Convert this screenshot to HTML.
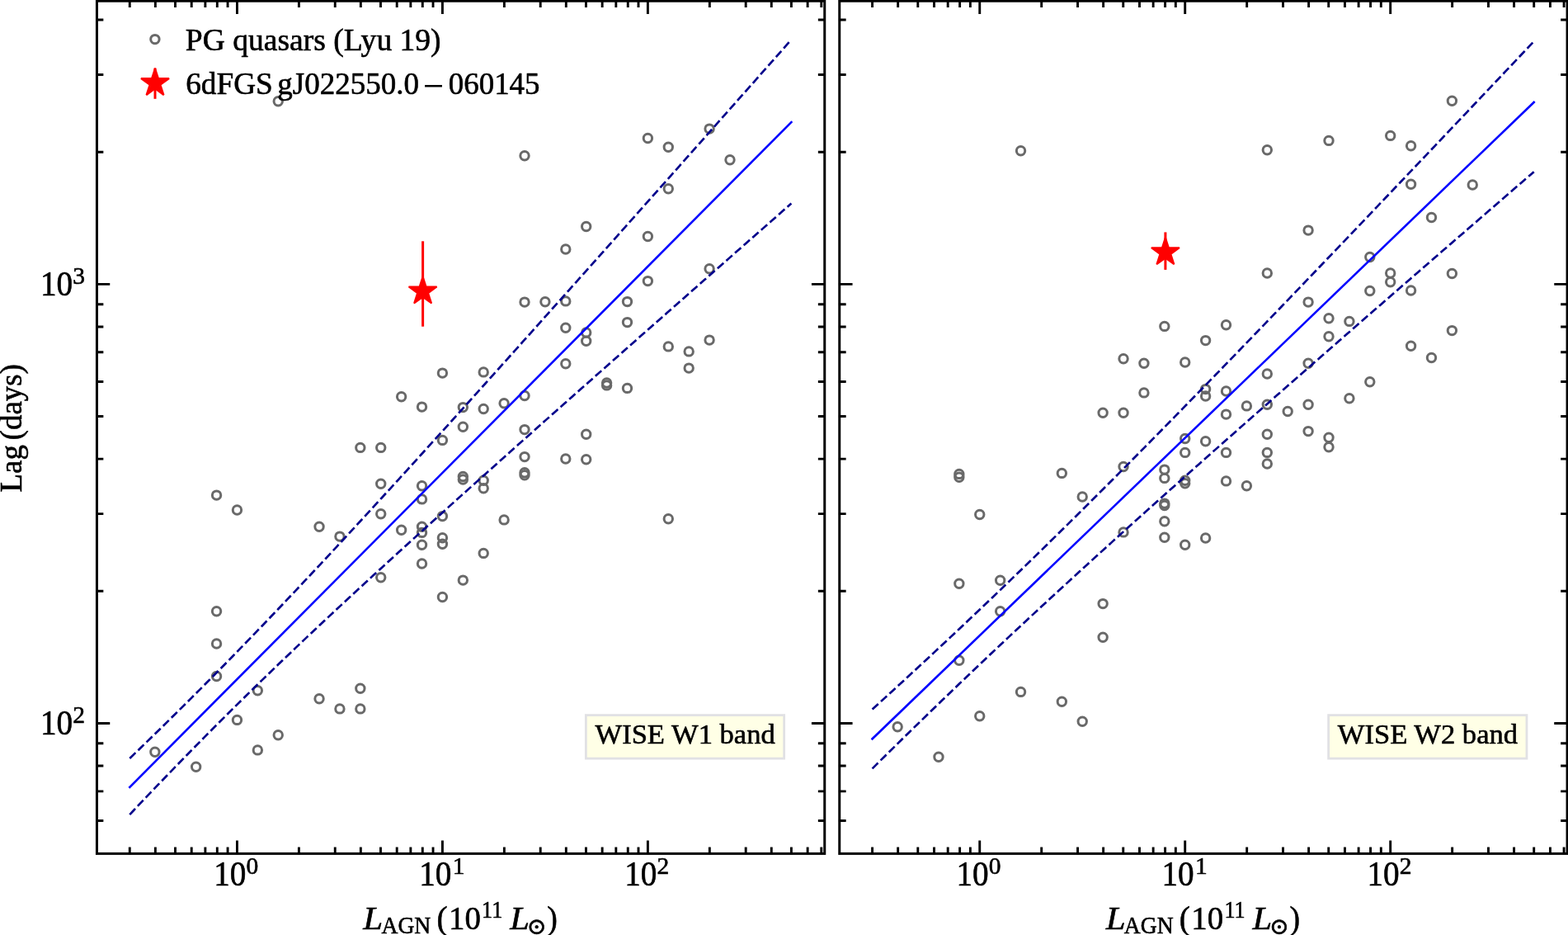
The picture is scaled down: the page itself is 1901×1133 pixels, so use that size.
<!DOCTYPE html>
<html><head><meta charset="utf-8"><title>Lag vs L_AGN</title>
<style>html,body{margin:0;padding:0;background:#fff;overflow:hidden}svg{display:block}</style>
</head><body>
<svg width="1901" height="1133" viewBox="0 0 1901 1133">
<rect x="0" y="0" width="1901" height="1133" fill="#fff"/>
<clipPath id="clip0"><rect x="117.45" y="1.2" width="882.3" height="1033.2"/></clipPath>
<g clip-path="url(#clip0)">
<rect x="710.35" y="866.6" width="240.30" height="52.50" fill="#ffffe6" stroke="#e1e1e4" stroke-width="2.8"/>
<g fill="none" stroke="#696969" stroke-width="3.0">
<circle cx="337.24" cy="122.70" r="5.2"/>
<circle cx="636.01" cy="188.80" r="5.2"/>
<circle cx="785.39" cy="167.50" r="5.2"/>
<circle cx="810.29" cy="178.30" r="5.2"/>
<circle cx="860.08" cy="156.10" r="5.2"/>
<circle cx="884.98" cy="193.80" r="5.2"/>
<circle cx="810.29" cy="228.80" r="5.2"/>
<circle cx="710.70" cy="274.50" r="5.2"/>
<circle cx="785.39" cy="286.50" r="5.2"/>
<circle cx="685.80" cy="302.00" r="5.2"/>
<circle cx="860.08" cy="325.80" r="5.2"/>
<circle cx="785.39" cy="340.60" r="5.2"/>
<circle cx="636.01" cy="366.10" r="5.2"/>
<circle cx="660.90" cy="365.80" r="5.2"/>
<circle cx="685.80" cy="364.90" r="5.2"/>
<circle cx="760.49" cy="365.60" r="5.2"/>
<circle cx="760.49" cy="390.60" r="5.2"/>
<circle cx="685.80" cy="397.30" r="5.2"/>
<circle cx="710.70" cy="403.00" r="5.2"/>
<circle cx="710.70" cy="413.20" r="5.2"/>
<circle cx="860.08" cy="412.10" r="5.2"/>
<circle cx="810.29" cy="419.90" r="5.2"/>
<circle cx="835.18" cy="425.90" r="5.2"/>
<circle cx="835.18" cy="446.10" r="5.2"/>
<circle cx="586.21" cy="450.90" r="5.2"/>
<circle cx="685.80" cy="440.70" r="5.2"/>
<circle cx="735.60" cy="464.00" r="5.2"/>
<circle cx="735.60" cy="466.90" r="5.2"/>
<circle cx="760.49" cy="470.40" r="5.2"/>
<circle cx="636.01" cy="479.50" r="5.2"/>
<circle cx="611.11" cy="488.80" r="5.2"/>
<circle cx="561.32" cy="493.60" r="5.2"/>
<circle cx="586.21" cy="495.50" r="5.2"/>
<circle cx="561.32" cy="517.20" r="5.2"/>
<circle cx="636.01" cy="520.60" r="5.2"/>
<circle cx="710.70" cy="526.20" r="5.2"/>
<circle cx="536.42" cy="452.10" r="5.2"/>
<circle cx="486.63" cy="480.70" r="5.2"/>
<circle cx="511.52" cy="493.10" r="5.2"/>
<circle cx="536.42" cy="533.40" r="5.2"/>
<circle cx="436.83" cy="542.40" r="5.2"/>
<circle cx="461.73" cy="542.40" r="5.2"/>
<circle cx="461.73" cy="586.30" r="5.2"/>
<circle cx="511.52" cy="588.70" r="5.2"/>
<circle cx="561.32" cy="577.50" r="5.2"/>
<circle cx="561.32" cy="581.00" r="5.2"/>
<circle cx="262.55" cy="600.10" r="5.2"/>
<circle cx="287.45" cy="618.00" r="5.2"/>
<circle cx="511.52" cy="604.90" r="5.2"/>
<circle cx="461.73" cy="622.70" r="5.2"/>
<circle cx="536.42" cy="625.60" r="5.2"/>
<circle cx="387.04" cy="638.20" r="5.2"/>
<circle cx="411.93" cy="650.10" r="5.2"/>
<circle cx="486.63" cy="642.30" r="5.2"/>
<circle cx="511.52" cy="638.20" r="5.2"/>
<circle cx="511.52" cy="645.40" r="5.2"/>
<circle cx="511.52" cy="660.20" r="5.2"/>
<circle cx="536.42" cy="651.80" r="5.2"/>
<circle cx="536.42" cy="659.20" r="5.2"/>
<circle cx="511.52" cy="683.00" r="5.2"/>
<circle cx="461.73" cy="699.70" r="5.2"/>
<circle cx="561.32" cy="703.10" r="5.2"/>
<circle cx="536.42" cy="723.50" r="5.2"/>
<circle cx="262.55" cy="740.70" r="5.2"/>
<circle cx="636.01" cy="553.60" r="5.2"/>
<circle cx="685.80" cy="556.00" r="5.2"/>
<circle cx="710.70" cy="556.70" r="5.2"/>
<circle cx="586.21" cy="582.20" r="5.2"/>
<circle cx="586.21" cy="591.80" r="5.2"/>
<circle cx="636.01" cy="572.70" r="5.2"/>
<circle cx="636.01" cy="575.80" r="5.2"/>
<circle cx="611.11" cy="629.90" r="5.2"/>
<circle cx="810.29" cy="628.70" r="5.2"/>
<circle cx="586.21" cy="670.40" r="5.2"/>
<circle cx="262.55" cy="780.00" r="5.2"/>
<circle cx="262.55" cy="819.50" r="5.2"/>
<circle cx="312.35" cy="836.70" r="5.2"/>
<circle cx="387.04" cy="846.70" r="5.2"/>
<circle cx="436.83" cy="834.30" r="5.2"/>
<circle cx="411.93" cy="858.90" r="5.2"/>
<circle cx="436.83" cy="858.90" r="5.2"/>
<circle cx="287.45" cy="872.40" r="5.2"/>
<circle cx="337.24" cy="890.80" r="5.2"/>
<circle cx="312.35" cy="908.90" r="5.2"/>
<circle cx="187.86" cy="911.30" r="5.2"/>
<circle cx="237.66" cy="929.20" r="5.2"/>
</g>
<line x1="157.27" y1="953.85" x2="959.41" y2="148.0" stroke="#0000ff" stroke-width="2.6" stroke-linecap="square"/>
<polyline points="157.27,918.95 162.28,914.13 167.30,909.30 172.31,904.45 177.32,899.60 182.34,894.73 187.35,889.86 192.36,884.97 197.38,880.06 202.39,875.15 207.40,870.22 212.42,865.28 217.43,860.32 222.44,855.36 227.46,850.38 232.47,845.38 237.48,840.38 242.50,835.36 247.51,830.32 252.52,825.27 257.54,820.21 262.55,815.14 267.56,810.05 272.58,804.95 277.59,799.84 282.60,794.71 287.62,789.57 292.63,784.42 297.64,779.26 302.66,774.08 307.67,768.89 312.68,763.69 317.70,758.47 322.71,753.24 327.72,748.01 332.74,742.76 337.75,737.50 342.76,732.23 347.78,726.94 352.79,721.65 357.80,716.35 362.82,711.03 367.83,705.71 372.84,700.38 377.86,695.03 382.87,689.68 387.89,684.32 392.90,678.95 397.91,673.57 402.93,668.19 407.94,662.79 412.95,657.39 417.97,651.98 422.98,646.56 427.99,641.14 433.01,635.70 438.02,630.26 443.03,624.82 448.05,619.37 453.06,613.91 458.07,608.45 463.09,602.98 468.10,597.50 473.11,592.02 478.13,586.53 483.14,581.04 488.15,575.54 493.17,570.04 498.18,564.53 503.19,559.02 508.21,553.51 513.22,547.99 518.23,542.46 523.25,536.93 528.26,531.40 533.27,525.87 538.29,520.33 543.30,514.78 548.31,509.24 553.33,503.68 558.34,498.13 563.35,492.57 568.37,487.01 573.38,481.45 578.39,475.88 583.41,470.31 588.42,464.74 593.43,459.17 598.45,453.59 603.46,448.01 608.47,442.43 613.49,436.84 618.50,431.26 623.51,425.67 628.53,420.08 633.54,414.48 638.56,408.89 643.57,403.29 648.58,397.69 653.60,392.09 658.61,386.48 663.62,380.88 668.64,375.27 673.65,369.66 678.66,364.05 683.68,358.44 688.69,352.82 693.70,347.21 698.72,341.59 703.73,335.97 708.74,330.35 713.76,324.73 718.77,319.11 723.78,313.48 728.80,307.86 733.81,302.23 738.82,296.60 743.84,290.97 748.85,285.34 753.86,279.71 758.88,274.08 763.89,268.44 768.90,262.81 773.92,257.17 778.93,251.54 783.94,245.90 788.96,240.26 793.97,234.62 798.98,228.98 804.00,223.33 809.01,217.69 814.02,212.05 819.04,206.40 824.05,200.76 829.06,195.11 834.08,189.46 839.09,183.82 844.10,178.17 849.12,172.52 854.13,166.87 859.14,161.22 864.16,155.57 869.17,149.91 874.18,144.26 879.20,138.61 884.21,132.95 889.22,127.30 894.24,121.64 899.25,115.99 904.27,110.33 909.28,104.67 914.29,99.01 919.31,93.36 924.32,87.70 929.33,82.04 934.35,76.38 939.36,70.72 944.37,65.06 949.39,59.39 954.40,53.73 959.41,48.07" fill="none" stroke="#00008b" stroke-width="2.65" stroke-dasharray="9.8 4.3" stroke-linecap="butt" stroke-linejoin="round"/>
<polyline points="157.27,987.04 162.28,981.74 167.30,976.45 172.31,971.18 177.32,965.92 182.34,960.66 187.35,955.43 192.36,950.20 197.38,944.99 202.39,939.79 207.40,934.61 212.42,929.44 217.43,924.28 222.44,919.14 227.46,914.01 232.47,908.89 237.48,903.79 242.50,898.71 247.51,893.64 252.52,888.58 257.54,883.54 262.55,878.51 267.56,873.50 272.58,868.50 277.59,863.52 282.60,858.55 287.62,853.60 292.63,848.66 297.64,843.73 302.66,838.82 307.67,833.92 312.68,829.04 317.70,824.17 322.71,819.31 327.72,814.47 332.74,809.63 337.75,804.82 342.76,800.01 347.78,795.21 352.79,790.43 357.80,785.66 362.82,780.90 367.83,776.15 372.84,771.41 377.86,766.69 382.87,761.97 387.89,757.26 392.90,752.56 397.91,747.87 402.93,743.19 407.94,738.52 412.95,733.86 417.97,729.20 422.98,724.56 427.99,719.92 433.01,715.29 438.02,710.66 443.03,706.05 448.05,701.44 453.06,696.83 458.07,692.24 463.09,687.65 468.10,683.06 473.11,678.48 478.13,673.91 483.14,669.34 488.15,664.78 493.17,660.22 498.18,655.67 503.19,651.12 508.21,646.58 513.22,642.04 518.23,637.50 523.25,632.97 528.26,628.45 533.27,623.92 538.29,619.41 543.30,614.89 548.31,610.38 553.33,605.87 558.34,601.37 563.35,596.87 568.37,592.37 573.38,587.87 578.39,583.38 583.41,578.89 588.42,574.40 593.43,569.92 598.45,565.44 603.46,560.96 608.47,556.48 613.49,552.01 618.50,547.54 623.51,543.07 628.53,538.60 633.54,534.13 638.56,529.67 643.57,525.21 648.58,520.75 653.60,516.29 658.61,511.84 663.62,507.38 668.64,502.93 673.65,498.48 678.66,494.03 683.68,489.58 688.69,485.14 693.70,480.69 698.72,476.25 703.73,471.81 708.74,467.37 713.76,462.93 718.77,458.49 723.78,454.06 728.80,449.62 733.81,445.19 738.82,440.76 743.84,436.33 748.85,431.90 753.86,427.47 758.88,423.04 763.89,418.61 768.90,414.19 773.92,409.76 778.93,405.34 783.94,400.91 788.96,396.49 793.97,392.07 798.98,387.65 804.00,383.23 809.01,378.81 814.02,374.39 819.04,369.98 824.05,365.56 829.06,361.14 834.08,356.73 839.09,352.32 844.10,347.90 849.12,343.49 854.13,339.08 859.14,334.67 864.16,330.26 869.17,325.85 874.18,321.44 879.20,317.03 884.21,312.62 889.22,308.21 894.24,303.80 899.25,299.40 904.27,294.99 909.28,290.59 914.29,286.18 919.31,281.78 924.32,277.37 929.33,272.97 934.35,268.57 939.36,264.16 944.37,259.76 949.39,255.36 954.40,250.96 959.41,246.56" fill="none" stroke="#00008b" stroke-width="2.65" stroke-dasharray="9.8 4.3" stroke-linecap="butt" stroke-linejoin="round"/>
<line x1="512.6" y1="292.3" x2="512.6" y2="395.7" stroke="#ff0000" stroke-width="3"/>
<polygon points="512.60,335.10 508.58,347.47 495.58,347.47 506.10,355.11 502.08,367.48 512.60,359.84 523.12,367.48 519.10,355.11 529.62,347.47 516.62,347.47" fill="#ff0000" stroke="#ff0000" stroke-width="2.0" stroke-linejoin="bevel"/>
</g>
<rect x="117.45" y="1.2" width="882.3" height="1033.2" fill="none" stroke="#000" stroke-width="3.0"/>
<path d="M157.27 1034.4v-7.9M157.27 1.2v7.9M188.37 1034.4v-7.9M188.37 1.2v7.9M212.50 1034.4v-7.9M212.50 1.2v7.9M232.22 1034.4v-7.9M232.22 1.2v7.9M248.88 1034.4v-7.9M248.88 1.2v7.9M263.32 1034.4v-7.9M263.32 1.2v7.9M276.06 1034.4v-7.9M276.06 1.2v7.9M287.45 1034.4v-15.8M287.45 1.2v15.8M362.40 1034.4v-7.9M362.40 1.2v7.9M406.24 1034.4v-7.9M406.24 1.2v7.9M437.34 1034.4v-7.9M437.34 1.2v7.9M461.47 1034.4v-7.9M461.47 1.2v7.9M481.19 1034.4v-7.9M481.19 1.2v7.9M497.85 1034.4v-7.9M497.85 1.2v7.9M512.29 1034.4v-7.9M512.29 1.2v7.9M525.03 1034.4v-7.9M525.03 1.2v7.9M536.42 1034.4v-15.8M536.42 1.2v15.8M611.37 1034.4v-7.9M611.37 1.2v7.9M655.21 1034.4v-7.9M655.21 1.2v7.9M686.31 1034.4v-7.9M686.31 1.2v7.9M710.44 1034.4v-7.9M710.44 1.2v7.9M730.16 1034.4v-7.9M730.16 1.2v7.9M746.82 1034.4v-7.9M746.82 1.2v7.9M761.26 1034.4v-7.9M761.26 1.2v7.9M774.00 1034.4v-7.9M774.00 1.2v7.9M785.39 1034.4v-15.8M785.39 1.2v15.8M860.34 1034.4v-7.9M860.34 1.2v7.9M904.18 1034.4v-7.9M904.18 1.2v7.9M935.28 1034.4v-7.9M935.28 1.2v7.9M959.41 1034.4v-7.9M959.41 1.2v7.9M979.13 1034.4v-7.9M979.13 1.2v7.9M995.79 1034.4v-7.9M995.79 1.2v7.9M117.45 994.48h7.9M999.75 994.48h-7.9M117.45 958.87h7.9M999.75 958.87h-7.9M117.45 928.01h7.9M999.75 928.01h-7.9M117.45 900.80h7.9M999.75 900.80h-7.9M117.45 876.45h15.8M999.75 876.45h-15.8M117.45 716.29h7.9M999.75 716.29h-7.9M117.45 622.60h7.9M999.75 622.60h-7.9M117.45 556.12h7.9M999.75 556.12h-7.9M117.45 504.56h7.9M999.75 504.56h-7.9M117.45 462.43h7.9M999.75 462.43h-7.9M117.45 426.82h7.9M999.75 426.82h-7.9M117.45 395.96h7.9M999.75 395.96h-7.9M117.45 368.75h7.9M999.75 368.75h-7.9M117.45 344.40h15.8M999.75 344.40h-15.8M117.45 184.24h7.9M999.75 184.24h-7.9M117.45 90.55h7.9M999.75 90.55h-7.9M117.45 24.07h7.9M999.75 24.07h-7.9" stroke="#000" stroke-width="2.9" fill="none"/>
<clipPath id="clip1"><rect x="1017.75" y="1.2" width="882.3" height="1033.2"/></clipPath>
<g clip-path="url(#clip1)">
<rect x="1610.65" y="866.6" width="240.30" height="52.50" fill="#ffffe6" stroke="#e1e1e4" stroke-width="2.8"/>
<g fill="none" stroke="#696969" stroke-width="3.0">
<circle cx="1237.54" cy="182.80" r="5.2"/>
<circle cx="1536.31" cy="181.80" r="5.2"/>
<circle cx="1611.00" cy="170.40" r="5.2"/>
<circle cx="1685.69" cy="164.40" r="5.2"/>
<circle cx="1710.59" cy="176.80" r="5.2"/>
<circle cx="1760.38" cy="122.30" r="5.2"/>
<circle cx="1710.59" cy="223.30" r="5.2"/>
<circle cx="1785.28" cy="224.00" r="5.2"/>
<circle cx="1735.48" cy="263.50" r="5.2"/>
<circle cx="1586.10" cy="279.10" r="5.2"/>
<circle cx="1660.79" cy="311.50" r="5.2"/>
<circle cx="1536.31" cy="331.00" r="5.2"/>
<circle cx="1685.69" cy="331.00" r="5.2"/>
<circle cx="1685.69" cy="341.80" r="5.2"/>
<circle cx="1760.38" cy="331.50" r="5.2"/>
<circle cx="1660.79" cy="352.50" r="5.2"/>
<circle cx="1710.59" cy="352.00" r="5.2"/>
<circle cx="1586.10" cy="366.10" r="5.2"/>
<circle cx="1611.00" cy="385.80" r="5.2"/>
<circle cx="1635.90" cy="389.40" r="5.2"/>
<circle cx="1486.51" cy="393.70" r="5.2"/>
<circle cx="1760.38" cy="400.60" r="5.2"/>
<circle cx="1461.62" cy="412.60" r="5.2"/>
<circle cx="1611.00" cy="407.80" r="5.2"/>
<circle cx="1710.59" cy="419.20" r="5.2"/>
<circle cx="1735.48" cy="433.50" r="5.2"/>
<circle cx="1586.10" cy="440.20" r="5.2"/>
<circle cx="1536.31" cy="453.00" r="5.2"/>
<circle cx="1660.79" cy="462.80" r="5.2"/>
<circle cx="1461.62" cy="471.60" r="5.2"/>
<circle cx="1461.62" cy="480.00" r="5.2"/>
<circle cx="1486.51" cy="474.00" r="5.2"/>
<circle cx="1635.90" cy="482.80" r="5.2"/>
<circle cx="1511.41" cy="491.90" r="5.2"/>
<circle cx="1536.31" cy="490.20" r="5.2"/>
<circle cx="1561.20" cy="498.50" r="5.2"/>
<circle cx="1586.10" cy="490.20" r="5.2"/>
<circle cx="1486.51" cy="502.10" r="5.2"/>
<circle cx="1536.31" cy="526.20" r="5.2"/>
<circle cx="1586.10" cy="522.60" r="5.2"/>
<circle cx="1611.00" cy="530.30" r="5.2"/>
<circle cx="1611.00" cy="541.70" r="5.2"/>
<circle cx="1486.51" cy="548.40" r="5.2"/>
<circle cx="1536.31" cy="548.40" r="5.2"/>
<circle cx="1536.31" cy="562.00" r="5.2"/>
<circle cx="1486.51" cy="582.90" r="5.2"/>
<circle cx="1511.41" cy="588.70" r="5.2"/>
<circle cx="1411.82" cy="395.40" r="5.2"/>
<circle cx="1362.03" cy="434.70" r="5.2"/>
<circle cx="1386.93" cy="440.20" r="5.2"/>
<circle cx="1436.72" cy="439.00" r="5.2"/>
<circle cx="1386.93" cy="475.90" r="5.2"/>
<circle cx="1337.13" cy="500.30" r="5.2"/>
<circle cx="1362.03" cy="500.30" r="5.2"/>
<circle cx="1436.72" cy="531.50" r="5.2"/>
<circle cx="1461.62" cy="534.80" r="5.2"/>
<circle cx="1436.72" cy="548.40" r="5.2"/>
<circle cx="1362.03" cy="565.50" r="5.2"/>
<circle cx="1411.82" cy="569.10" r="5.2"/>
<circle cx="1411.82" cy="579.40" r="5.2"/>
<circle cx="1162.85" cy="574.40" r="5.2"/>
<circle cx="1162.85" cy="578.20" r="5.2"/>
<circle cx="1287.34" cy="573.40" r="5.2"/>
<circle cx="1436.72" cy="582.20" r="5.2"/>
<circle cx="1436.72" cy="585.80" r="5.2"/>
<circle cx="1312.23" cy="602.00" r="5.2"/>
<circle cx="1411.82" cy="610.10" r="5.2"/>
<circle cx="1411.82" cy="612.50" r="5.2"/>
<circle cx="1187.75" cy="623.50" r="5.2"/>
<circle cx="1411.82" cy="631.80" r="5.2"/>
<circle cx="1362.03" cy="644.90" r="5.2"/>
<circle cx="1411.82" cy="651.30" r="5.2"/>
<circle cx="1461.62" cy="652.00" r="5.2"/>
<circle cx="1436.72" cy="660.20" r="5.2"/>
<circle cx="1162.85" cy="707.30" r="5.2"/>
<circle cx="1212.65" cy="703.30" r="5.2"/>
<circle cx="1337.13" cy="731.60" r="5.2"/>
<circle cx="1212.65" cy="740.70" r="5.2"/>
<circle cx="1337.13" cy="772.30" r="5.2"/>
<circle cx="1162.85" cy="800.20" r="5.2"/>
<circle cx="1237.54" cy="838.40" r="5.2"/>
<circle cx="1287.34" cy="850.30" r="5.2"/>
<circle cx="1187.75" cy="867.70" r="5.2"/>
<circle cx="1312.23" cy="874.30" r="5.2"/>
<circle cx="1088.16" cy="880.80" r="5.2"/>
<circle cx="1137.96" cy="917.20" r="5.2"/>
</g>
<line x1="1057.57" y1="895.3" x2="1859.71" y2="123.9" stroke="#0000ff" stroke-width="2.6" stroke-linecap="square"/>
<polyline points="1057.57,859.59 1062.58,855.02 1067.60,850.45 1072.61,845.87 1077.62,841.28 1082.64,836.68 1087.65,832.08 1092.66,827.48 1097.68,822.86 1102.69,818.24 1107.70,813.61 1112.72,808.98 1117.73,804.33 1122.74,799.68 1127.76,795.02 1132.77,790.36 1137.78,785.69 1142.80,781.00 1147.81,776.31 1152.82,771.62 1157.84,766.91 1162.85,762.20 1167.86,757.48 1172.88,752.75 1177.89,748.01 1182.90,743.26 1187.92,738.50 1192.93,733.74 1197.94,728.96 1202.96,724.18 1207.97,719.39 1212.98,714.59 1218.00,709.78 1223.01,704.96 1228.02,700.14 1233.04,695.30 1238.05,690.46 1243.06,685.60 1248.08,680.74 1253.09,675.87 1258.10,670.99 1263.12,666.11 1268.13,661.21 1273.14,656.30 1278.16,651.39 1283.17,646.47 1288.19,641.54 1293.20,636.60 1298.21,631.65 1303.23,626.70 1308.24,621.74 1313.25,616.76 1318.27,611.79 1323.28,606.80 1328.29,601.81 1333.31,596.81 1338.32,591.80 1343.33,586.78 1348.35,581.76 1353.36,576.73 1358.37,571.69 1363.39,566.65 1368.40,561.60 1373.41,556.55 1378.43,551.48 1383.44,546.42 1388.45,541.34 1393.47,536.26 1398.48,531.18 1403.49,526.08 1408.51,520.99 1413.52,515.89 1418.53,510.78 1423.55,505.66 1428.56,500.55 1433.57,495.42 1438.59,490.30 1443.60,485.16 1448.61,480.03 1453.63,474.89 1458.64,469.74 1463.65,464.59 1468.67,459.44 1473.68,454.28 1478.69,449.12 1483.71,443.95 1488.72,438.78 1493.73,433.61 1498.75,428.43 1503.76,423.25 1508.77,418.06 1513.79,412.88 1518.80,407.69 1523.81,402.49 1528.83,397.30 1533.84,392.10 1538.86,386.89 1543.87,381.69 1548.88,376.48 1553.90,371.27 1558.91,366.06 1563.92,360.84 1568.94,355.62 1573.95,350.40 1578.96,345.18 1583.98,339.95 1588.99,334.72 1594.00,329.49 1599.02,324.26 1604.03,319.02 1609.04,313.79 1614.06,308.55 1619.07,303.31 1624.08,298.07 1629.10,292.82 1634.11,287.57 1639.12,282.33 1644.14,277.08 1649.15,271.82 1654.16,266.57 1659.18,261.32 1664.19,256.06 1669.20,250.80 1674.22,245.54 1679.23,240.28 1684.24,235.02 1689.26,229.76 1694.27,224.49 1699.28,219.22 1704.30,213.96 1709.31,208.69 1714.32,203.42 1719.34,198.14 1724.35,192.87 1729.36,187.60 1734.38,182.32 1739.39,177.05 1744.40,171.77 1749.42,166.49 1754.43,161.21 1759.44,155.93 1764.46,150.65 1769.47,145.37 1774.48,140.08 1779.50,134.80 1784.51,129.51 1789.52,124.23 1794.54,118.94 1799.55,113.65 1804.57,108.36 1809.58,103.07 1814.59,97.78 1819.61,92.49 1824.62,87.20 1829.63,81.91 1834.65,76.61 1839.66,71.32 1844.67,66.02 1849.69,60.73 1854.70,55.43 1859.71,50.13" fill="none" stroke="#00008b" stroke-width="2.65" stroke-dasharray="9.8 4.3" stroke-linecap="butt" stroke-linejoin="round"/>
<polyline points="1057.57,931.33 1062.58,926.37 1067.60,921.41 1072.61,916.47 1077.62,911.53 1082.64,906.60 1087.65,901.68 1092.66,896.76 1097.68,891.86 1102.69,886.96 1107.70,882.07 1112.72,877.19 1117.73,872.31 1122.74,867.45 1127.76,862.59 1132.77,857.74 1137.78,852.90 1142.80,848.07 1147.81,843.25 1152.82,838.43 1157.84,833.63 1162.85,828.83 1167.86,824.04 1172.88,819.26 1177.89,814.48 1182.90,809.72 1187.92,804.96 1192.93,800.22 1197.94,795.48 1202.96,790.74 1207.97,786.02 1212.98,781.30 1218.00,776.59 1223.01,771.89 1228.02,767.20 1233.04,762.52 1238.05,757.84 1243.06,753.17 1248.08,748.51 1253.09,743.85 1258.10,739.20 1263.12,734.56 1268.13,729.93 1273.14,725.30 1278.16,720.68 1283.17,716.07 1288.19,711.46 1293.20,706.86 1298.21,702.26 1303.23,697.68 1308.24,693.09 1313.25,688.52 1318.27,683.95 1323.28,679.38 1328.29,674.82 1333.31,670.27 1338.32,665.72 1343.33,661.18 1348.35,656.64 1353.36,652.11 1358.37,647.58 1363.39,643.06 1368.40,638.54 1373.41,634.03 1378.43,629.52 1383.44,625.02 1388.45,620.52 1393.47,616.02 1398.48,611.53 1403.49,607.05 1408.51,602.56 1413.52,598.09 1418.53,593.61 1423.55,589.14 1428.56,584.67 1433.57,580.21 1438.59,575.75 1443.60,571.29 1448.61,566.84 1453.63,562.39 1458.64,557.94 1463.65,553.49 1468.67,549.05 1473.68,544.62 1478.69,540.18 1483.71,535.75 1488.72,531.32 1493.73,526.89 1498.75,522.47 1503.76,518.05 1508.77,513.63 1513.79,509.21 1518.80,504.80 1523.81,500.38 1528.83,495.97 1533.84,491.57 1538.86,487.16 1543.87,482.76 1548.88,478.36 1553.90,473.96 1558.91,469.56 1563.92,465.17 1568.94,460.77 1573.95,456.38 1578.96,451.99 1583.98,447.61 1588.99,443.22 1594.00,438.84 1599.02,434.45 1604.03,430.07 1609.04,425.69 1614.06,421.32 1619.07,416.94 1624.08,412.57 1629.10,408.19 1634.11,403.82 1639.12,399.45 1644.14,395.08 1649.15,390.71 1654.16,386.35 1659.18,381.98 1664.19,377.62 1669.20,373.26 1674.22,368.90 1679.23,364.54 1684.24,360.18 1689.26,355.82 1694.27,351.46 1699.28,347.11 1704.30,342.75 1709.31,338.40 1714.32,334.05 1719.34,329.70 1724.35,325.35 1729.36,321.00 1734.38,316.65 1739.39,312.30 1744.40,307.96 1749.42,303.61 1754.43,299.27 1759.44,294.92 1764.46,290.58 1769.47,286.24 1774.48,281.90 1779.50,277.56 1784.51,273.22 1789.52,268.88 1794.54,264.54 1799.55,260.20 1804.57,255.86 1809.58,251.53 1814.59,247.19 1819.61,242.86 1824.62,238.52 1829.63,234.19 1834.65,229.86 1839.66,225.53 1844.67,221.20 1849.69,216.86 1854.70,212.53 1859.71,208.20" fill="none" stroke="#00008b" stroke-width="2.65" stroke-dasharray="9.8 4.3" stroke-linecap="butt" stroke-linejoin="round"/>
<line x1="1412.9" y1="281.4" x2="1412.9" y2="326.9" stroke="#ff0000" stroke-width="3"/>
<polygon points="1412.90,287.90 1408.88,300.27 1395.88,300.27 1406.40,307.91 1402.38,320.28 1412.90,312.64 1423.42,320.28 1419.40,307.91 1429.92,300.27 1416.92,300.27" fill="#ff0000" stroke="#ff0000" stroke-width="2.0" stroke-linejoin="bevel"/>
</g>
<rect x="1017.75" y="1.2" width="882.3" height="1033.2" fill="none" stroke="#000" stroke-width="3.0"/>
<path d="M1057.57 1034.4v-7.9M1057.57 1.2v7.9M1088.67 1034.4v-7.9M1088.67 1.2v7.9M1112.80 1034.4v-7.9M1112.80 1.2v7.9M1132.52 1034.4v-7.9M1132.52 1.2v7.9M1149.18 1034.4v-7.9M1149.18 1.2v7.9M1163.62 1034.4v-7.9M1163.62 1.2v7.9M1176.36 1034.4v-7.9M1176.36 1.2v7.9M1187.75 1034.4v-15.8M1187.75 1.2v15.8M1262.70 1034.4v-7.9M1262.70 1.2v7.9M1306.54 1034.4v-7.9M1306.54 1.2v7.9M1337.64 1034.4v-7.9M1337.64 1.2v7.9M1361.77 1034.4v-7.9M1361.77 1.2v7.9M1381.49 1034.4v-7.9M1381.49 1.2v7.9M1398.15 1034.4v-7.9M1398.15 1.2v7.9M1412.59 1034.4v-7.9M1412.59 1.2v7.9M1425.33 1034.4v-7.9M1425.33 1.2v7.9M1436.72 1034.4v-15.8M1436.72 1.2v15.8M1511.67 1034.4v-7.9M1511.67 1.2v7.9M1555.51 1034.4v-7.9M1555.51 1.2v7.9M1586.61 1034.4v-7.9M1586.61 1.2v7.9M1610.74 1034.4v-7.9M1610.74 1.2v7.9M1630.46 1034.4v-7.9M1630.46 1.2v7.9M1647.12 1034.4v-7.9M1647.12 1.2v7.9M1661.56 1034.4v-7.9M1661.56 1.2v7.9M1674.30 1034.4v-7.9M1674.30 1.2v7.9M1685.69 1034.4v-15.8M1685.69 1.2v15.8M1760.64 1034.4v-7.9M1760.64 1.2v7.9M1804.48 1034.4v-7.9M1804.48 1.2v7.9M1835.58 1034.4v-7.9M1835.58 1.2v7.9M1859.71 1034.4v-7.9M1859.71 1.2v7.9M1879.43 1034.4v-7.9M1879.43 1.2v7.9M1896.09 1034.4v-7.9M1896.09 1.2v7.9M1017.75 994.48h7.9M1900.05 994.48h-7.9M1017.75 958.87h7.9M1900.05 958.87h-7.9M1017.75 928.01h7.9M1900.05 928.01h-7.9M1017.75 900.80h7.9M1900.05 900.80h-7.9M1017.75 876.45h15.8M1900.05 876.45h-15.8M1017.75 716.29h7.9M1900.05 716.29h-7.9M1017.75 622.60h7.9M1900.05 622.60h-7.9M1017.75 556.12h7.9M1900.05 556.12h-7.9M1017.75 504.56h7.9M1900.05 504.56h-7.9M1017.75 462.43h7.9M1900.05 462.43h-7.9M1017.75 426.82h7.9M1900.05 426.82h-7.9M1017.75 395.96h7.9M1900.05 395.96h-7.9M1017.75 368.75h7.9M1900.05 368.75h-7.9M1017.75 344.40h15.8M1900.05 344.40h-15.8M1017.75 184.24h7.9M1900.05 184.24h-7.9M1017.75 90.55h7.9M1900.05 90.55h-7.9M1017.75 24.07h7.9M1900.05 24.07h-7.9" stroke="#000" stroke-width="2.9" fill="none"/>
<circle cx="187.9" cy="47.6" r="5.2" fill="none" stroke="#696969" stroke-width="3.0"/>
<line x1="188.0" y1="82.5" x2="188.0" y2="119.8" stroke="#ff0000" stroke-width="3"/>
<polygon points="188.00,82.70 183.98,95.07 170.98,95.07 181.50,102.71 177.48,115.08 188.00,107.44 198.52,115.08 194.50,102.71 205.02,95.07 192.02,95.07" fill="#ff0000" stroke="#ff0000" stroke-width="2.0" stroke-linejoin="bevel"/>
<g>
<text transform="translate(224.81,60.80) scale(0.09940,0.10000)" font-family="'Liberation Serif', serif" font-size="378.0" fill="#000" stroke="#000" stroke-width="6.00" stroke-linejoin="round">PG quasars (Lyu 19)</text>
<text transform="translate(225.22,113.50) scale(0.09860,0.10000)" font-family="'Liberation Serif', serif" font-size="378.0" fill="#000" stroke="#000" stroke-width="6.00" stroke-linejoin="round">6dFGS</text>
<text transform="translate(336.33,113.50) scale(0.09797,0.10000)" font-family="'Liberation Serif', serif" font-size="378.0" fill="#000" stroke="#000" stroke-width="6.00" stroke-linejoin="round">gJ022550.0</text>
<text transform="translate(513.02,120.83) scale(0.11887,0.13500)" font-family="'Liberation Serif', serif" font-size="378.0" fill="#000" stroke="#000" stroke-width="0.00" stroke-linejoin="round">−</text>
<text transform="translate(543.78,113.50) scale(0.09770,0.10000)" font-family="'Liberation Serif', serif" font-size="378.0" fill="#000" stroke="#000" stroke-width="6.00" stroke-linejoin="round">060145</text>
<text transform="translate(259.20,1072.80) scale(0.09425,0.10000)" font-family="'Liberation Serif', serif" font-size="416.0" fill="#000" stroke="#000" stroke-width="6.00" stroke-linejoin="round">10</text>
<text transform="translate(298.40,1058.50) scale(0.10000,0.10000)" font-family="'Liberation Serif', serif" font-size="295.0" fill="#000" stroke="#000" stroke-width="6.00" stroke-linejoin="round">0</text>
<text transform="translate(508.17,1072.80) scale(0.09425,0.10000)" font-family="'Liberation Serif', serif" font-size="416.0" fill="#000" stroke="#000" stroke-width="6.00" stroke-linejoin="round">10</text>
<text transform="translate(548.67,1058.50) scale(0.10000,0.10000)" font-family="'Liberation Serif', serif" font-size="295.0" fill="#000" stroke="#000" stroke-width="6.00" stroke-linejoin="round">1</text>
<text transform="translate(757.14,1072.80) scale(0.09425,0.10000)" font-family="'Liberation Serif', serif" font-size="416.0" fill="#000" stroke="#000" stroke-width="6.00" stroke-linejoin="round">10</text>
<text transform="translate(796.49,1058.50) scale(0.10000,0.10000)" font-family="'Liberation Serif', serif" font-size="295.0" fill="#000" stroke="#000" stroke-width="6.00" stroke-linejoin="round">2</text>
<text transform="translate(1159.50,1072.80) scale(0.09425,0.10000)" font-family="'Liberation Serif', serif" font-size="416.0" fill="#000" stroke="#000" stroke-width="6.00" stroke-linejoin="round">10</text>
<text transform="translate(1198.70,1058.50) scale(0.10000,0.10000)" font-family="'Liberation Serif', serif" font-size="295.0" fill="#000" stroke="#000" stroke-width="6.00" stroke-linejoin="round">0</text>
<text transform="translate(1408.47,1072.80) scale(0.09425,0.10000)" font-family="'Liberation Serif', serif" font-size="416.0" fill="#000" stroke="#000" stroke-width="6.00" stroke-linejoin="round">10</text>
<text transform="translate(1448.97,1058.50) scale(0.10000,0.10000)" font-family="'Liberation Serif', serif" font-size="295.0" fill="#000" stroke="#000" stroke-width="6.00" stroke-linejoin="round">1</text>
<text transform="translate(1657.44,1072.80) scale(0.09425,0.10000)" font-family="'Liberation Serif', serif" font-size="416.0" fill="#000" stroke="#000" stroke-width="6.00" stroke-linejoin="round">10</text>
<text transform="translate(1696.79,1058.50) scale(0.10000,0.10000)" font-family="'Liberation Serif', serif" font-size="295.0" fill="#000" stroke="#000" stroke-width="6.00" stroke-linejoin="round">2</text>
<text transform="translate(48.95,357.70) scale(0.09425,0.10000)" font-family="'Liberation Serif', serif" font-size="416.0" fill="#000" stroke="#000" stroke-width="6.00" stroke-linejoin="round">10</text>
<text transform="translate(88.35,343.50) scale(0.10000,0.10000)" font-family="'Liberation Serif', serif" font-size="295.0" fill="#000" stroke="#000" stroke-width="6.00" stroke-linejoin="round">3</text>
<text transform="translate(48.95,889.75) scale(0.09425,0.10000)" font-family="'Liberation Serif', serif" font-size="416.0" fill="#000" stroke="#000" stroke-width="6.00" stroke-linejoin="round">10</text>
<text transform="translate(88.30,875.55) scale(0.10000,0.10000)" font-family="'Liberation Serif', serif" font-size="295.0" fill="#000" stroke="#000" stroke-width="6.00" stroke-linejoin="round">2</text>
<text transform="translate(440.33,1125.60) scale(0.10619,0.10000)" font-family="'Liberation Serif', serif" font-size="405.0" style="font-style:italic" fill="#000" stroke="#000" stroke-width="6.00" stroke-linejoin="round">L</text>
<text transform="translate(462.46,1130.60) scale(0.09728,0.10000)" font-family="'Liberation Serif', serif" font-size="284.0" fill="#000" stroke="#000" stroke-width="6.00" stroke-linejoin="round">AGN</text>
<text transform="translate(529.40,1125.70) scale(0.09714,0.10000)" font-family="'Liberation Serif', serif" font-size="405.0" fill="#000" stroke="#000" stroke-width="6.00" stroke-linejoin="round">(</text>
<text transform="translate(544.04,1125.80) scale(0.09606,0.10000)" font-family="'Liberation Serif', serif" font-size="405.0" fill="#000" stroke="#000" stroke-width="6.00" stroke-linejoin="round">10</text>
<text transform="translate(584.08,1111.80) scale(0.08866,0.10000)" font-family="'Liberation Serif', serif" font-size="295.0" fill="#000" stroke="#000" stroke-width="6.00" stroke-linejoin="round">11</text>
<text transform="translate(618.13,1125.70) scale(0.10524,0.10000)" font-family="'Liberation Serif', serif" font-size="405.0" style="font-style:italic" fill="#000" stroke="#000" stroke-width="6.00" stroke-linejoin="round">L</text>
<text transform="translate(638.70,1132.00) scale(0.10197,0.10000)" font-family="'DejaVu Serif', serif" font-size="280.0" fill="#000" stroke="#000" stroke-width="6.00" stroke-linejoin="round">⊙</text>
<text transform="translate(663.23,1125.70) scale(0.09333,0.10000)" font-family="'Liberation Serif', serif" font-size="405.0" fill="#000" stroke="#000" stroke-width="6.00" stroke-linejoin="round">)</text>
<text transform="translate(721.50,901.00) scale(0.09995,0.10000)" font-family="'Liberation Serif', serif" font-size="346.0" fill="#000" stroke="#000" stroke-width="6.00" stroke-linejoin="round">WISE W1 band</text>
<text transform="translate(1340.63,1125.60) scale(0.10619,0.10000)" font-family="'Liberation Serif', serif" font-size="405.0" style="font-style:italic" fill="#000" stroke="#000" stroke-width="6.00" stroke-linejoin="round">L</text>
<text transform="translate(1362.76,1130.60) scale(0.09728,0.10000)" font-family="'Liberation Serif', serif" font-size="284.0" fill="#000" stroke="#000" stroke-width="6.00" stroke-linejoin="round">AGN</text>
<text transform="translate(1429.70,1125.70) scale(0.09714,0.10000)" font-family="'Liberation Serif', serif" font-size="405.0" fill="#000" stroke="#000" stroke-width="6.00" stroke-linejoin="round">(</text>
<text transform="translate(1444.34,1125.80) scale(0.09606,0.10000)" font-family="'Liberation Serif', serif" font-size="405.0" fill="#000" stroke="#000" stroke-width="6.00" stroke-linejoin="round">10</text>
<text transform="translate(1484.38,1111.80) scale(0.08866,0.10000)" font-family="'Liberation Serif', serif" font-size="295.0" fill="#000" stroke="#000" stroke-width="6.00" stroke-linejoin="round">11</text>
<text transform="translate(1518.43,1125.70) scale(0.10524,0.10000)" font-family="'Liberation Serif', serif" font-size="405.0" style="font-style:italic" fill="#000" stroke="#000" stroke-width="6.00" stroke-linejoin="round">L</text>
<text transform="translate(1539.00,1132.00) scale(0.10197,0.10000)" font-family="'DejaVu Serif', serif" font-size="280.0" fill="#000" stroke="#000" stroke-width="6.00" stroke-linejoin="round">⊙</text>
<text transform="translate(1563.53,1125.70) scale(0.09333,0.10000)" font-family="'Liberation Serif', serif" font-size="405.0" fill="#000" stroke="#000" stroke-width="6.00" stroke-linejoin="round">)</text>
<text transform="translate(1621.80,901.00) scale(0.09995,0.10000)" font-family="'Liberation Serif', serif" font-size="346.0" fill="#000" stroke="#000" stroke-width="6.00" stroke-linejoin="round">WISE W2 band</text>
<text transform="translate(25.80,596.47) rotate(-90) scale(0.09747,0.10000)" font-family="'Liberation Serif', serif" font-size="378.0" fill="#000" stroke="#000" stroke-width="6.00" stroke-linejoin="round">Lag</text>
<text transform="translate(25.80,533.26) rotate(-90) scale(0.09749,0.10000)" font-family="'Liberation Serif', serif" font-size="378.0" fill="#000" stroke="#000" stroke-width="6.00" stroke-linejoin="round">(days)</text>
</g>
</svg>
</body></html>
